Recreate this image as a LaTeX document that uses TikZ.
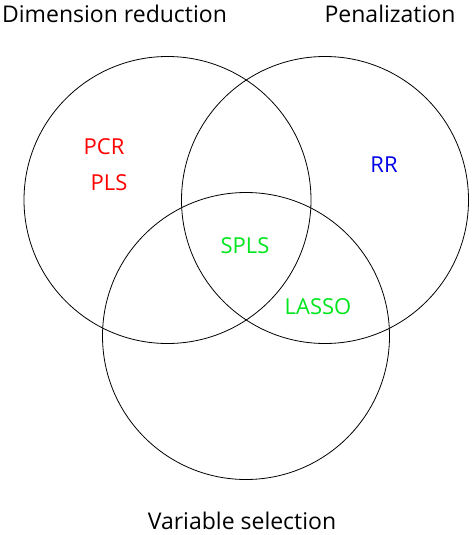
\documentclass[tikz,border=0pt]{standalone}
\usepackage{fontspec}
\setmainfont{Open Sans}
\definecolor{vred}{RGB}{255,0,0}
\definecolor{vblue}{RGB}{0,0,230}
\definecolor{vgreen}{RGB}{0,230,30}
\begin{document}
\begin{tikzpicture}[x=1pt,y=-1pt,
  vset/.style={circle,draw=black,line width=0.8pt,minimum size=287pt,inner sep=0pt},
  title/.style={font=\fontsize{23}{26}\selectfont,text=black,inner sep=0pt},
  item/.style={font=\fontsize{22}{26}\selectfont,inner sep=0pt}]
\useasboundingbox[fill=white] (0,0) rectangle (474,535);
\node[vset] (dr) at (167.5,200) {};
\node[vset] (pen) at (325,200) {};
\node[vset] (vs) at (246,336) {};
\node[title] (tdr) at (114.5,14) {Dimension reduction};
\node[title] (tpen) at (390,14) {Penalization};
\node[title] (tvs) at (242,521) {Variable selection};
\node[item,text=vred] (pcr) at (104,147) {PCR};
\node[item,text=vred] (pls) at (109,183) {PLS};
\node[item,text=vblue] (rr) at (384,165) {RR};
\node[item,text=vgreen] (spls) at (245,246) {SPLS};
\node[item,text=vgreen] (lasso) at (318,307) {LASSO};
\end{tikzpicture}
\end{document}
